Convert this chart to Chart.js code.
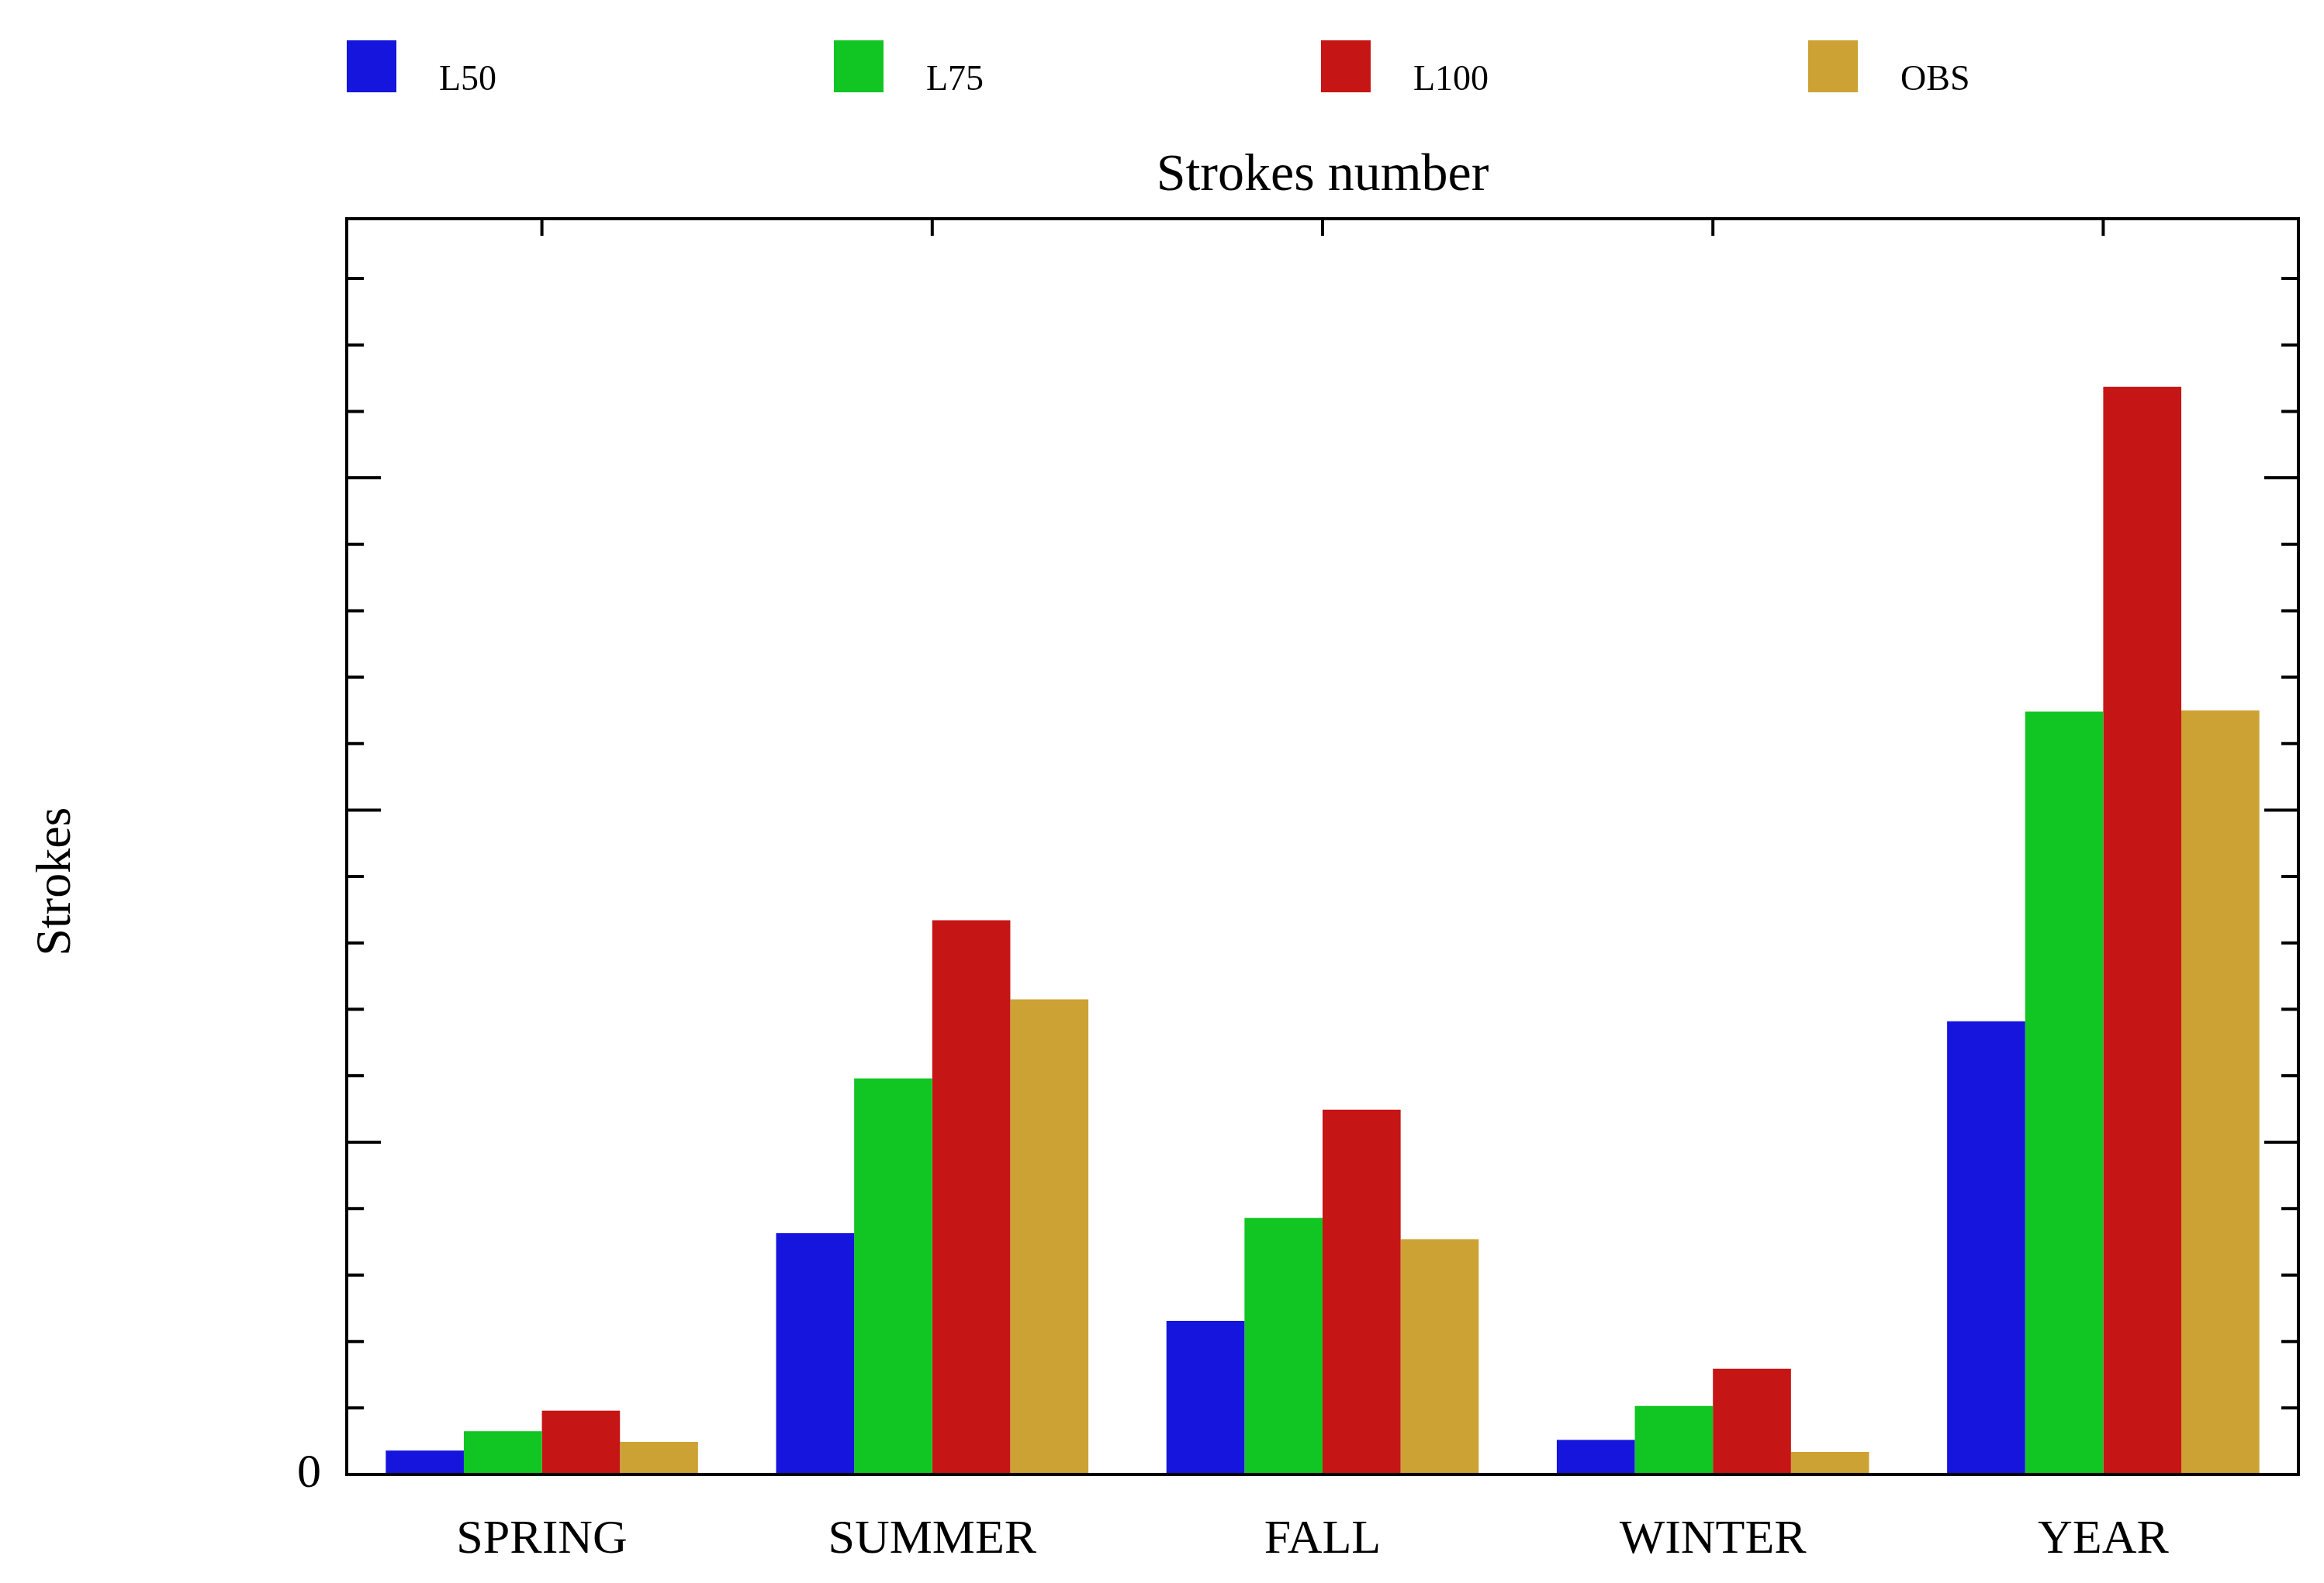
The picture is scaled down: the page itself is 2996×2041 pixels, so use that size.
<!DOCTYPE html>
<html>
<head>
<meta charset="utf-8">
<script src="https://cdn.jsdelivr.net/npm/chart.js@4"></script>
<style>
  html, body { margin: 0; padding: 0; background: #fff; }
  #wrap { width: 2996px; height: 2041px; }
</style>
</head>
<body>
<div id="wrap"><canvas id="strokesChart"></canvas></div>
<script>
// data
const seasons = ['SPRING', 'SUMMER', 'FALL', 'WINTER', 'YEAR'];
const seriesNames = ['L50', 'L75', 'L100', 'OBS'];
const l50 = [0.36e6, 3.63e6, 2.31e6, 0.52e6, 6.82e6];
const l75 = [0.65e6, 5.96e6, 3.86e6, 1.03e6, 11.48e6];
const l100 = [0.96e6, 8.34e6, 5.49e6, 1.59e6, 16.37e6];
const obs = [0.49e6, 7.15e6, 3.54e6, 0.34e6, 11.5e6];
const yTickLabels = { 0: '0', 5000000: '5.0×10⁶', 10000000: '1.0×10⁷', 15000000: '1.5×10⁷' };

const colors = ['#1515DD', '#11C522', '#C51515', '#CDA235'];
const serif = '"Liberation Serif", "DejaVu Serif", serif';

// frame, inward ticks, title, legend and y title
const framePlugin = {
    id: 'frame',
    afterDraw(chart) {
        const ctx = chart.ctx;
        const a = chart.chartArea;
        const y = chart.scales.y;
        const x = chart.scales.x;
        ctx.save();
        ctx.strokeStyle = '#000';
        ctx.lineWidth = 4;
        ctx.strokeRect(a.left, a.top, a.right - a.left, a.bottom - a.top);

        // y ticks on both sides
        ctx.lineWidth = 4;
        for (let v = 0; v <= y.max; v += 1e6) {
            const py = y.getPixelForValue(v);
            const len = (v % 5e6 === 0) ? 44 : 22;
            ctx.beginPath();
            ctx.moveTo(a.left, py); ctx.lineTo(a.left + len, py);
            ctx.moveTo(a.right, py); ctx.lineTo(a.right - len, py);
            ctx.stroke();
        }
        // top ticks at category centres
        seasons.forEach((s, i) => {
            const px = x.getPixelForValue(i);
            ctx.beginPath();
            ctx.moveTo(px, a.top); ctx.lineTo(px, a.top + 22);
            ctx.stroke();
        });

        // title
        ctx.fillStyle = '#000';
        ctx.font = '68px ' + serif;
        ctx.textAlign = 'center';
        ctx.textBaseline = 'middle';
        ctx.fillText('Strokes number', (a.left + a.right) / 2, 227);

        // y title
        ctx.save();
        ctx.translate(73, (a.top + a.bottom) / 2 + 45);
        ctx.rotate(-Math.PI / 2);
        ctx.font = '64px ' + serif;
        ctx.fillText('Strokes', 0, 0);
        ctx.restore();

        // legend
        ctx.font = '46px ' + serif;
        ctx.textAlign = 'left';
        chart.data.datasets.forEach((ds, i) => {
            const bx = 447 + i * 628;
            ctx.fillStyle = ds.backgroundColor;
            ctx.fillRect(bx, 52, 64, 67);
            ctx.fillStyle = '#000';
            ctx.fillText(ds.label, bx + 119, 104);
        });
        ctx.restore();
    }
};

const seriesData = [l50, l75, l100, obs];

new Chart(document.getElementById('strokesChart'), {
    type: 'bar',
    data: {
        labels: seasons,
        datasets: seriesNames.map((name, i) => ({
            label: name,
            data: seriesData[i],
            backgroundColor: colors[i],
            borderWidth: 0,
            barPercentage: 1.0,
            categoryPercentage: 0.8
        }))
    },
    options: {
        responsive: true,
        maintainAspectRatio: false,
        animation: false,
        devicePixelRatio: 1,
        layout: { padding: { left: 0, right: 33, top: 282, bottom: 0 } },
        plugins: {
            legend: { display: false },
            tooltip: { enabled: false }
        },
        scales: {
            x: {
                grid: { display: false },
                border: { display: false },
                ticks: { color: '#000', font: { family: serif, size: 62 }, padding: 40 },
                afterFit(scale) { scale.height = 140; }
            },
            y: {
                min: 0,
                max: 18900000,
                grid: { display: false },
                border: { display: false },
                ticks: {
                    stepSize: 1000000,
                    autoSkip: false,
                    color: '#000',
                    font: { family: serif, size: 62 },
                    padding: 25,
                    callback: v => (yTickLabels[v] !== undefined ? yTickLabels[v] : '')
                },
                afterFit(scale) { scale.width = 447; }
            }
        }
    },
    plugins: [framePlugin]
});
</script>
</body>
</html>
